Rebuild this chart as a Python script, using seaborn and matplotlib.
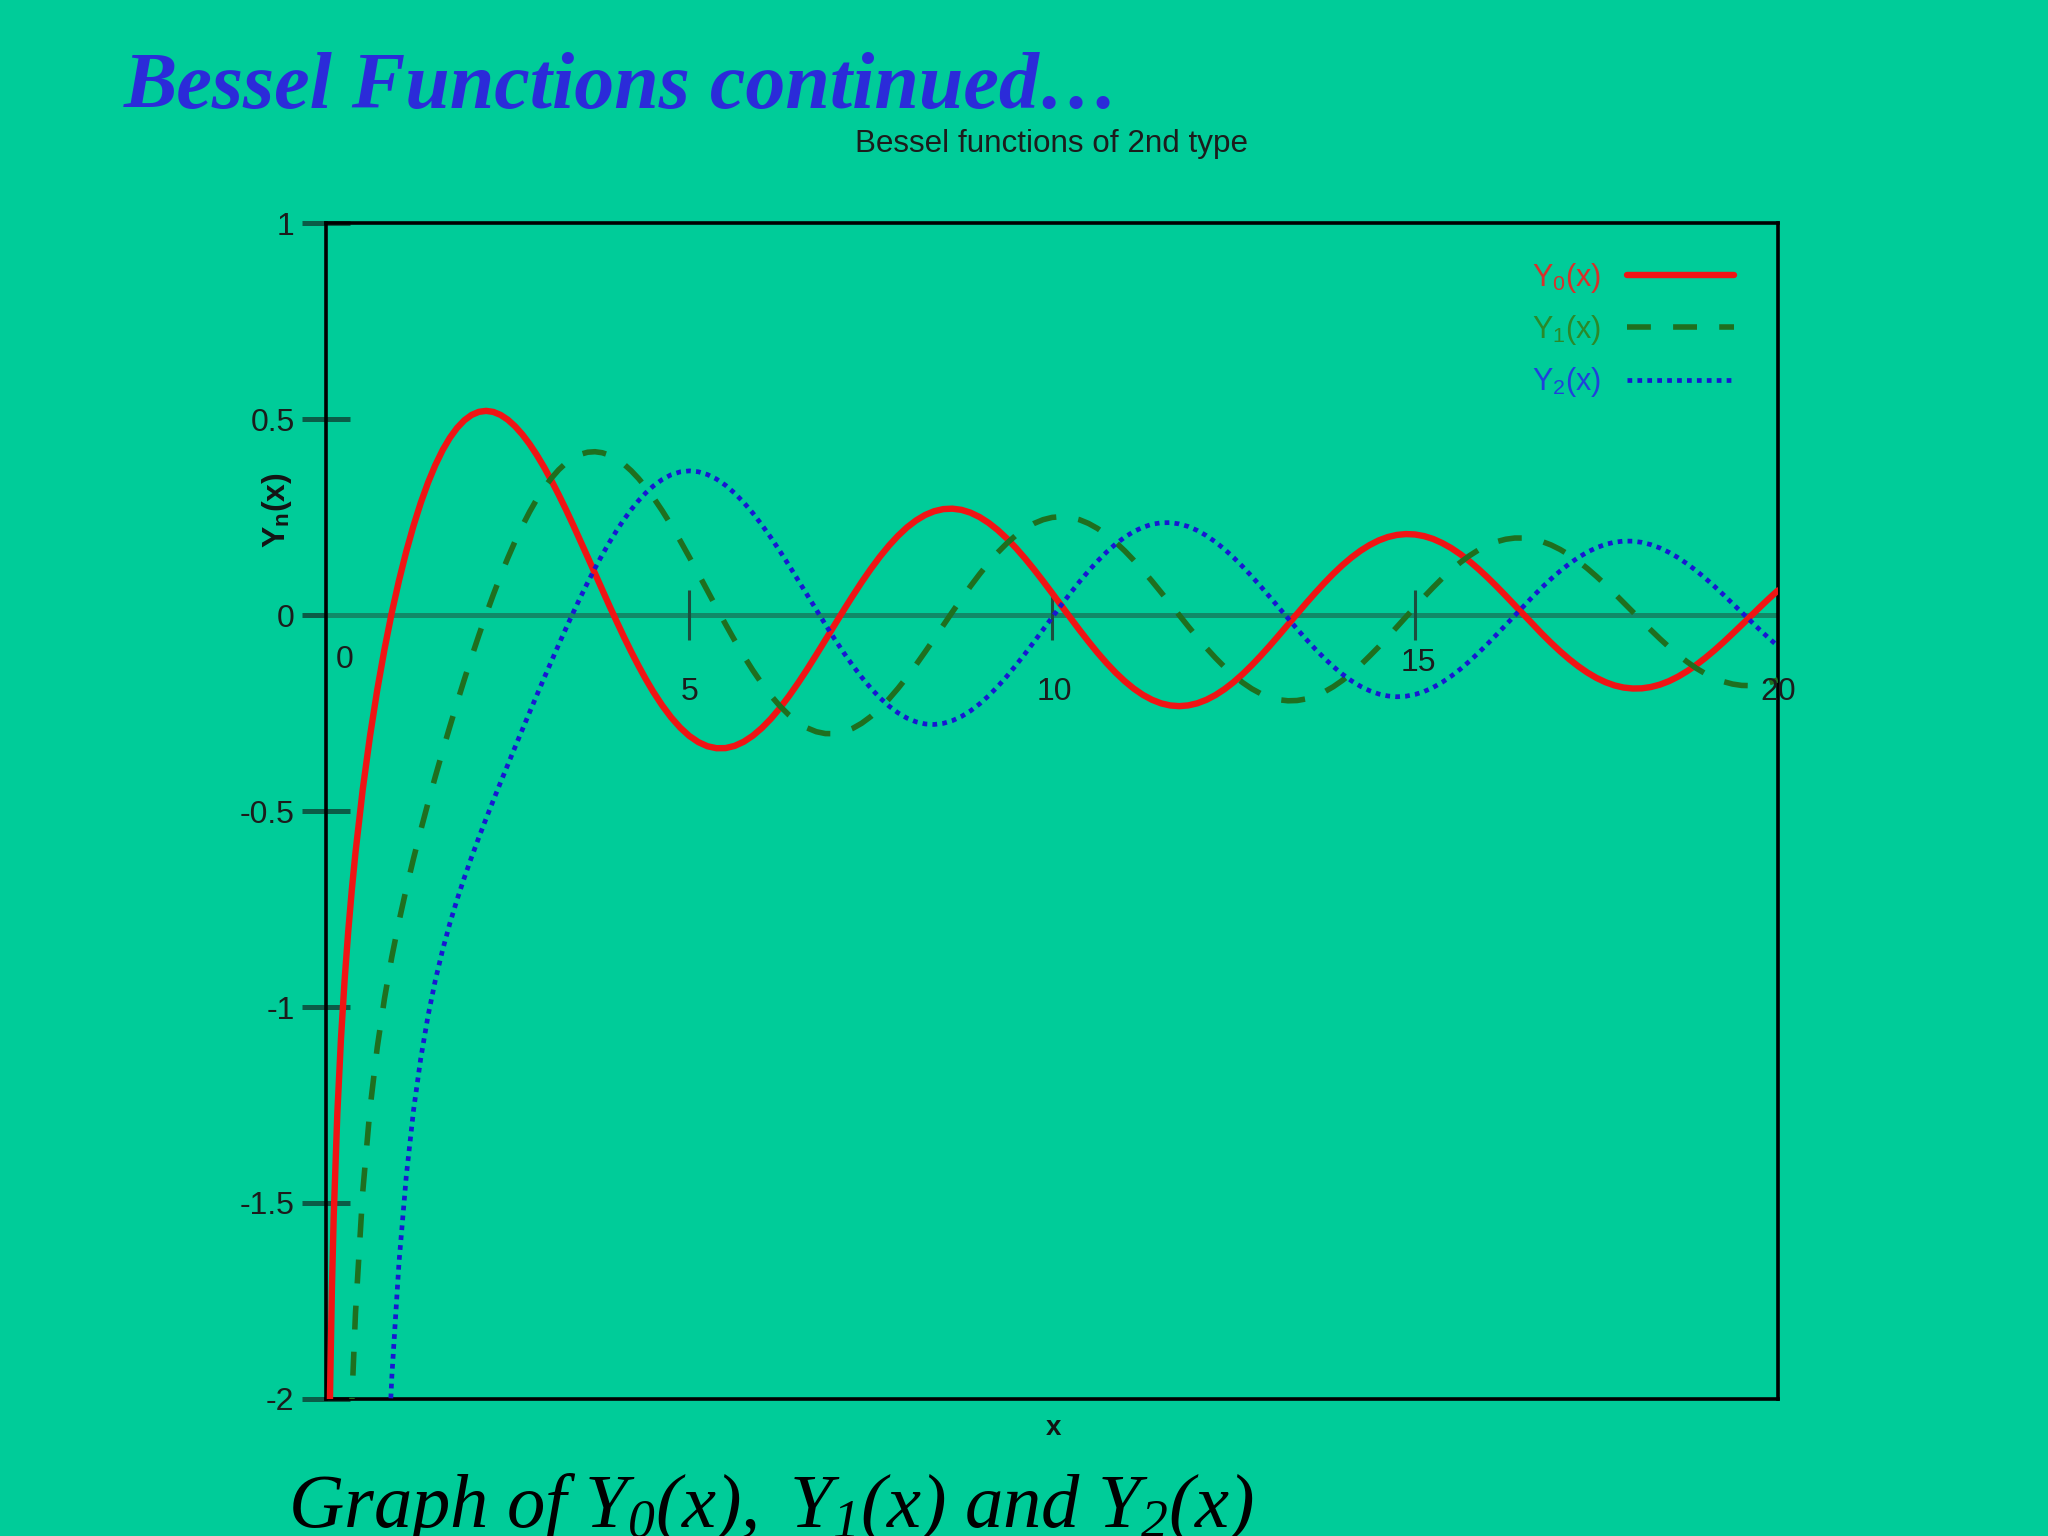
import numpy as np
import pandas as pd
import matplotlib
matplotlib.use("Agg")
import matplotlib.pyplot as plt
import seaborn as sns

# ---------------- data ----------------
x_vals = [
    0.04, 0.05, 0.075, 0.1, 0.15, 0.2, 0.25, 0.3, 0.35, 0.4, 0.5, 0.6, 0.7, 0.8, 0.9,
    1.0, 1.1, 1.2, 1.3, 1.4, 1.5, 1.6, 1.7, 1.8, 1.9,
    2.0, 2.1, 2.2, 2.3, 2.4, 2.5, 2.6, 2.7, 2.8, 2.9,
    3.0, 3.1, 3.2, 3.3, 3.4, 3.5, 3.6, 3.7, 3.8, 3.9,
    4.0, 4.1, 4.2, 4.3, 4.4, 4.5,
    4.625, 4.75, 4.875,
    5.0, 5.125, 5.25, 5.375, 5.5, 5.625, 5.75, 5.875,
    6.0, 6.125, 6.25, 6.375, 6.5, 6.625, 6.75, 6.875,
    7.0, 7.125, 7.25, 7.375, 7.5, 7.625, 7.75, 7.875,
    8.0, 8.125, 8.25, 8.375, 8.5, 8.625, 8.75, 8.875,
    9.0, 9.125, 9.25, 9.375, 9.5, 9.625, 9.75, 9.875,
    10.0, 10.125, 10.25, 10.375, 10.5, 10.625, 10.75, 10.875,
    11.0, 11.125, 11.25, 11.375, 11.5, 11.625, 11.75, 11.875,
    12.0, 12.125, 12.25, 12.375, 12.5, 12.625, 12.75, 12.875,
    13.0, 13.125, 13.25, 13.375, 13.5, 13.625, 13.75, 13.875,
    14.0, 14.125, 14.25, 14.375, 14.5, 14.625, 14.75, 14.875,
    15.0, 15.125, 15.25, 15.375, 15.5, 15.625, 15.75, 15.875,
    16.0, 16.125, 16.25, 16.375, 16.5, 16.625, 16.75, 16.875,
    17.0, 17.125, 17.25, 17.375, 17.5, 17.625, 17.75, 17.875,
    18.0, 18.125, 18.25, 18.375, 18.5, 18.625, 18.75, 18.875,
    19.0, 19.125, 19.25, 19.375, 19.5, 19.625, 19.75, 19.875,
    20.0]

y0_vals = [
    -2.122, -1.979, -1.720, -1.534, -1.271, -1.081, -0.932, -0.807, -0.700, -0.606,
    -0.445, -0.309, -0.191, -0.087, 0.006,
    0.0883, 0.1622, 0.2281, 0.2865, 0.3379, 0.3824, 0.4204, 0.4520, 0.4774, 0.4968,
    0.5104, 0.5183, 0.5208, 0.5181, 0.5104, 0.4981, 0.4813, 0.4605, 0.4359, 0.4079,
    0.3769, 0.3430, 0.3070, 0.2691, 0.2296, 0.1889, 0.1476, 0.1060, 0.0644, 0.0233,
    -0.0169, -0.0562, -0.0938, -0.1296, -0.1634, -0.1948,
    -0.2302, -0.2612, -0.2874,
    -0.3085, -0.3243, -0.3348, -0.3398, -0.3395, -0.3339, -0.3233, -0.3080,
    -0.2882, -0.2645, -0.2370, -0.2064, -0.1733, -0.1381, -0.1014, -0.0638,
    -0.0260, 0.0117, 0.0484, 0.0838, 0.1173, 0.1485, 0.1768, 0.2019,
    0.2236, 0.2413, 0.2552, 0.2648, 0.2702, 0.2713, 0.2683, 0.2611,
    0.2499, 0.2351, 0.2168, 0.1954, 0.1712, 0.1447, 0.1163, 0.0865,
    0.0557, 0.0244, -0.0069, -0.0377, -0.0675, -0.0960, -0.1226, -0.1470,
    -0.1688, -0.1878, -0.2037, -0.2162, -0.2253, -0.2307, -0.2325, -0.2306,
    -0.2252, -0.2164, -0.2043, -0.1892, -0.1712, -0.1508, -0.1282, -0.1039,
    -0.0782, -0.0515, -0.0243, 0.0030, 0.0301, 0.0564, 0.0816, 0.1053,
    0.1272, 0.1469, 0.1641, 0.1786, 0.1903, 0.1989, 0.2043, 0.2065,
    0.2055, 0.2013, 0.1940, 0.1836, 0.1707, 0.1551, 0.1372, 0.1173,
    0.0958, 0.0730, 0.0492, 0.0248, 0.0002, -0.0242, -0.0481, -0.0710,
    -0.0927, -0.1127, -0.1308, -0.1468, -0.1604, -0.1714, -0.1797, -0.1851,
    -0.1875, -0.1871, -0.1837, -0.1776, -0.1687, -0.1572, -0.1433, -0.1274,
    -0.1095, -0.0901, -0.0694, -0.0477, -0.0255, -0.0029, 0.0195, 0.0415,
    0.0626]

y1_vals = [
    None, None, None, None, None, None, None, -2.293, -2.005, -1.781,
    -1.472, -1.260, -1.103, -0.978, -0.873,
    -0.7812, -0.6981, -0.6211, -0.5485, -0.4791, -0.4123, -0.3476, -0.2847, -0.2237, -0.1644,
    -0.1070, -0.0517, 0.0015, 0.0523, 0.1005, 0.1459, 0.1884, 0.2276, 0.2635, 0.2959,
    0.3247, 0.3492, 0.3704, 0.3876, 0.4008, 0.4100, 0.4153, 0.4166, 0.4140, 0.4078,
    0.3979, 0.3846, 0.3680, 0.3484, 0.3260, 0.3010,
    0.2666, 0.2295, 0.1894,
    0.1478, 0.1052, 0.0618, 0.0187, -0.0237, -0.0648, -0.1043, -0.1410,
    -0.1748, -0.2056, -0.2326, -0.2555, -0.2741, -0.2882, -0.2977, -0.3025,
    -0.3027, -0.2982, -0.2894, -0.2762, -0.2591, -0.2384, -0.2144, -0.1874,
    -0.1583, -0.1268, -0.0939, -0.0603, -0.0262, 0.0079, 0.0412, 0.0737,
    0.1043, 0.1330, 0.1595, 0.1828, 0.2032, 0.2202, 0.2336, 0.2432,
    0.2490, 0.2509, 0.2489, 0.2432, 0.2337, 0.2208, 0.2046, 0.1855,
    0.1637, 0.1395, 0.1137, 0.0865, 0.0580, 0.0290, -0.0002, -0.0290,
    -0.0571, -0.0840, -0.1093, -0.1327, -0.1538, -0.1724, -0.1881, -0.2007,
    -0.2101, -0.2162, -0.2188, -0.2181, -0.2140, -0.2067, -0.1962, -0.1828,
    -0.1667, -0.1481, -0.1274, -0.1046, -0.0811, -0.0561, -0.0305, -0.0046,
    0.0211, 0.0463, 0.0705, 0.0937, 0.1149, 0.1342, 0.1513, 0.1660,
    0.1780, 0.1871, 0.1933, 0.1964, 0.1964, 0.1935, 0.1875, 0.1787,
    0.1672, 0.1532, 0.1369, 0.1187, 0.0986, 0.0772, 0.0548, 0.0316,
    0.0082, -0.0153, -0.0383, -0.0606, -0.0818, -0.1015, -0.1196, -0.1357,
    -0.1495, -0.1610, -0.1699, -0.1761, -0.1796, -0.1802, -0.1780, -0.1731,
    -0.1655]

y2_vals = [
    None, None, None, None, None, None, None, None, None, None,
    None, None, None, -2.359, -1.946,
    -1.6507, -1.4315, -1.2633, -1.1303, -1.0223, -0.9321, -0.8549, -0.7869, -0.7260, -0.6699,
    -0.6174, -0.5675, -0.5194, -0.4726, -0.4266, -0.3814, -0.3364, -0.2919, -0.2477, -0.2038,
    -0.1604, -0.1177, -0.0755, -0.0342, 0.0062, 0.0454, 0.0831, 0.1192, 0.1535, 0.1858,
    0.2159, 0.2438, 0.2690, 0.2917, 0.3115, 0.3285,
    0.3455, 0.3579, 0.3652,
    0.3677, 0.3654, 0.3583, 0.3468, 0.3309, 0.3109, 0.2871, 0.2600,
    0.2299, 0.1973, 0.1625, 0.1262, 0.0889, 0.0511, 0.0132, -0.0242,
    -0.0605, -0.0954, -0.1283, -0.1587, -0.1864, -0.2110, -0.2321, -0.2495,
    -0.2631, -0.2725, -0.2779, -0.2792, -0.2764, -0.2695, -0.2588, -0.2445,
    -0.2267, -0.2060, -0.1824, -0.1564, -0.1284, -0.0990, -0.0684, -0.0372,
    -0.0059, 0.0252, 0.0555, 0.0846, 0.1120, 0.1375, 0.1606, 0.1811,
    0.1986, 0.2129, 0.2239, 0.2315, 0.2353, 0.2357, 0.2324, 0.2258,
    0.2157, 0.2026, 0.1864, 0.1678, 0.1466, 0.1235, 0.0987, 0.0727,
    0.0459, 0.0186, -0.0087, -0.0357, -0.0618, -0.0867, -0.1101, -0.1317,
    -0.1510, -0.1679, -0.1820, -0.1932, -0.2015, -0.2065, -0.2085, -0.2071,
    -0.2027, -0.1952, -0.1847, -0.1715, -0.1558, -0.1379, -0.1180, -0.0964,
    -0.0736, -0.0498, -0.0254, -0.0008, 0.0236, 0.0475, 0.0705, 0.0922,
    0.1123, 0.1306, 0.1467, 0.1605, 0.1717, 0.1802, 0.1858, 0.1886,
    0.1884, 0.1854, 0.1795, 0.1710, 0.1598, 0.1463, 0.1306, 0.1130,
    0.0938, 0.0733, 0.0517, 0.0295, 0.0070, -0.0154, -0.0375, -0.0589,
    -0.0792]

series_names = ["Y0", "Y1", "Y2"]
legend_labels = [r"Y$_\mathsf{0}$(x)", r"Y$_\mathsf{1}$(x)", r"Y$_\mathsf{2}$(x)"]
ytick_vals = [1, 0.5, 0, -0.5, -1, -1.5, -2]
ytick_labels = ["1", "0.5", "0", "-0.5", "-1", "-1.5", "-2"]
xtick_vals = [0, 5, 10, 15, 20]
xtick_labels = ["0", "5", "10", "15", "20"]
minor_xticks = [5, 10, 15]

title_text = "Bessel Functions continued\u2026"
subtitle_text = "Bessel functions of 2nd type"
caption_text = r"$Graph\ of\ Y_0(x),\ Y_1(x)\ and\ Y_2(x)$"

# ---------------- styling ----------------
BG = "#00CC99"
sns.set_style("white", {"axes.facecolor": BG, "figure.facecolor": BG})
plt.rcParams["font.family"] = ["Liberation Sans", "DejaVu Sans"]
plt.rcParams["mathtext.fontset"] = "custom"
plt.rcParams["mathtext.it"] = "Liberation Serif:italic"
plt.rcParams["mathtext.rm"] = "Liberation Serif:italic"
plt.rcParams["mathtext.sf"] = "Liberation Sans"
plt.rcParams["mathtext.bf"] = "Liberation Sans:bold"

fig = plt.figure(figsize=(10.24, 7.68), dpi=200, facecolor=BG)
ax = fig.add_axes([0.1594, 0.0892, 0.7087, 0.7656])
ax.set_facecolor(BG)

df = pd.DataFrame({
    "x": x_vals,
    "Y0": [np.nan if v is None else v for v in y0_vals],
    "Y1": [np.nan if v is None else v for v in y1_vals],
    "Y2": [np.nan if v is None else v for v in y2_vals],
})

line_styles = {
    "Y0": dict(color="#f01414", linestyle="-", linewidth=2.3),
    "Y1": dict(color="#1f6f1f", linestyle=(0, (4.3, 4.0)), linewidth=2.0),
    "Y2": dict(color="#1818d2", linestyle=(0, (1.0, 1.1)), linewidth=1.7),
}

ax.axhline(0, color="#108a68", linewidth=1.8, zorder=1)

for name, lab in zip(series_names, legend_labels):
    sub = df[["x", name]].dropna()
    sns.lineplot(data=sub, x="x", y=name, ax=ax, label=lab, estimator=None,
                 sort=False, zorder=3, **line_styles[name])

ax.set_xlim(0, 20)
ax.set_ylim(-2, 1)

for sp in ax.spines.values():
    sp.set_color("black")
    sp.set_linewidth(1.3)
    sp.set_visible(True)

ax.set_yticks(ytick_vals)
ax.set_yticklabels(ytick_labels)
ax.tick_params(axis="y", direction="inout", length=17, width=1.8, color="#0b5c47",
               pad=3.0, labelsize=11.5, labelcolor="#1c1c1c", left=True)
ax.set_xticks([])
ax.set_xlabel("")
ax.set_ylabel("")

# short tick marks on the zero line
ax.plot(minor_xticks, [0] * len(minor_xticks), linestyle="none", marker="|",
        markersize=18, markeredgewidth=1.1, color="#1d4d3d", zorder=2)

# x tick labels hanging below the zero line (staggered as in the reference)
label_drop = [0.115, 0.196, 0.196, 0.122, 0.196]
label_shift = [0.25, 0, 0.03, 0.05, 0]
for xv, lab, dr, sh in zip(xtick_vals, xtick_labels, label_drop, label_shift):
    ax.text(xv + sh, -dr, lab, ha="center", va="center", fontsize=11.5,
            color="#1c1c1c", zorder=4)

# legend: text first, then line sample
handles, labels = ax.get_legend_handles_labels()
leg = ax.legend(handles, labels, loc="upper right", bbox_to_anchor=(0.9697, 0.968),
                frameon=False, markerfirst=False, handlelength=3.5, handletextpad=0.85,
                labelspacing=0.6, fontsize=11, borderpad=0, borderaxespad=0)
for t, c in zip(leg.get_texts(), ["#d8302a", "#2a8a2a", "#2040dc"]):
    t.set_color(c)

# axis labels
fig.text(0.1353, 0.668, r"Y$_\mathbf{n}$(x)", rotation=90, ha="center", va="center",
         fontsize=11.5, fontweight="bold", color="#141414")
fig.text(0.5142, 0.0703, "x", ha="center", va="center", fontsize=10,
         fontweight="bold", color="#141414")

# titles
fig.text(0.0605, 0.9297, title_text, ha="left", va="baseline", fontsize=28.8,
         fontweight="bold", fontstyle="italic", family="Liberation Serif", color="#2b2bd9")
fig.text(0.5132, 0.906, subtitle_text, ha="center", va="center", fontsize=11.3,
         color="#1c1c1c")
fig.text(0.1406, 0.0059, caption_text, ha="left", va="baseline", fontsize=27.6,
         color="black")

fig.savefig("out.png", dpi=200, facecolor=BG)
